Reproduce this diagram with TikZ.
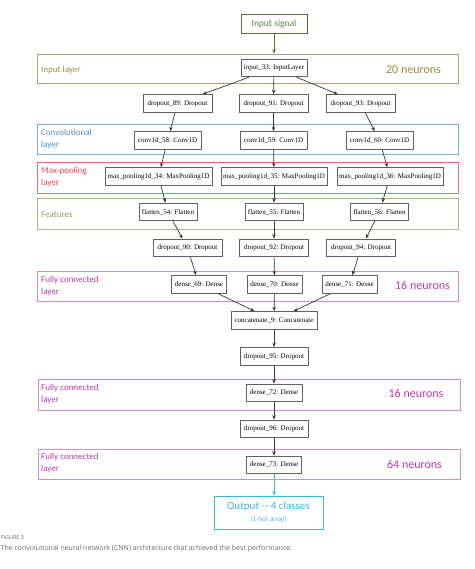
\documentclass[tikz,border=0pt]{standalone}
\usepackage{fontspec}
\setmainfont{Liberation Serif}
\newfontfamily\labfont{Carlito}
\newfontfamily\capfont{Open Sans}
\usetikzlibrary{arrows.meta}
\definecolor{olivec}{HTML}{9A8A3E}
\definecolor{oliveb}{HTML}{ADA36E}
\definecolor{convc}{HTML}{4F8FCF}
\definecolor{convb}{HTML}{7FAEDC}
\definecolor{poolc}{HTML}{E8464F}
\definecolor{poolb}{HTML}{EE6A70}
\definecolor{featc}{HTML}{8AA06A}
\definecolor{featb}{HTML}{A9B98A}
\definecolor{fcc}{HTML}{B53AA6}
\definecolor{fcb}{HTML}{D48ACB}
\definecolor{sigc}{HTML}{5F8A3A}
\definecolor{sigb}{HTML}{5C6A40}
\definecolor{outc}{HTML}{3CB4E2}
\definecolor{capc}{HTML}{6A6A6A}
\tikzset{
  layerbox/.style={draw=black!62, line width=1pt, fill=white, inner sep=0pt,
    minimum height=17.5pt, font=\fontsize{7}{8}\selectfont},
  band/.style={line width=0.9pt},
  bandlab/.style={anchor=west, align=left, inner sep=0pt, font=\labfont\fontsize{9}{12}\selectfont},
  neurlab/.style={inner sep=0pt, font=\labfont\fontsize{12}{14}\selectfont},
  flow/.style={draw=black!78, line width=0.7pt, -{Stealth[length=4.5pt,width=3.5pt]}},
}
\begin{document}
\begin{tikzpicture}[x=1pt,y=-1pt]
\useasboundingbox (0,0) rectangle (474,569);
% bands
\draw[band, draw=oliveb] (37,54) rectangle (458,83);
\draw[band, draw=convb] (37,124) rectangle (458,154);
\draw[band, draw=poolb] (37,162) rectangle (458,193);
\draw[band, draw=featb] (37,198) rectangle (458,229);
\draw[band, draw=fcb] (37,271.5) rectangle (458,301);
\draw[band, draw=fcb] (38,379) rectangle (460,410);
\draw[band, draw=fcb] (38,449) rectangle (460,479);
% band labels
\node[bandlab, text=olivec] (lin) at (41,70) {Input layer};
\node[bandlab, text=convc] (lconv) at (41,139.5) {Convolutional\\layer};
\node[bandlab, text=poolc] (lpool) at (41,177.5) {Max-pooling\\layer};
\node[bandlab, text=featc] (lfeat) at (41,215) {Features};
\node[bandlab, text=fcc] (lfc1) at (41,286) {Fully connected\\layer};
\node[bandlab, text=fcc] (lfc2) at (41,394.5) {Fully connected\\layer};
\node[bandlab, text=fcc] (lfc3) at (41,463.5) {Fully connected\\layer};
\node[neurlab, text=olivec] (n20) at (413.5,70) {20 neurons};
\node[neurlab, text=fcc] (n16a) at (422.5,285) {16 neurons};
\node[neurlab, text=fcc] (n16b) at (416,393) {16 neurons};
\node[neurlab, text=fcc] (n64) at (414.5,464) {64 neurons};
% input signal
\node[draw=sigb, line width=0.8pt, fill=white, minimum width=66pt, minimum height=19pt, inner sep=0pt,
  text=sigc, font=\labfont\fontsize{9.5}{11}\selectfont] (sig) at (274,24) {Input signal};
% layers
\node[layerbox, minimum width=66pt] (in33) at (274,68) {input\_33: InputLayer};
\node[layerbox, minimum width=69pt] (d89) at (177.5,103.5) {dropout\_89: Dropout};
\node[layerbox, minimum width=69pt] (d91) at (273.5,103.5) {dropout\_91: Dropout};
\node[layerbox, minimum width=69pt] (d93) at (360.5,103.5) {dropout\_93: Dropout};
\node[layerbox, minimum width=67pt] (c58) at (167.5,140.5) {conv1d\_58: Conv1D};
\node[layerbox, minimum width=67pt] (c59) at (273.5,140.5) {conv1d\_59: Conv1D};
\node[layerbox, minimum width=67pt] (c60) at (379.5,140.5) {conv1d\_60: Conv1D};
\node[layerbox, minimum width=107pt] (mp34) at (158.5,176.5) {max\_pooling1d\_34: MaxPooling1D};
\node[layerbox, minimum width=106pt] (mp35) at (274,176.5) {max\_pooling1d\_35: MaxPooling1D};
\node[layerbox, minimum width=106pt] (mp36) at (390,176.5) {max\_pooling1d\_36: MaxPooling1D};
\node[layerbox, minimum width=58pt] (f54) at (168,212) {flatten\_54: Flatten};
\node[layerbox, minimum width=58pt] (f55) at (274,212) {flatten\_55: Flatten};
\node[layerbox, minimum width=58pt] (f56) at (379.5,212) {flatten\_56: Flatten};
\node[layerbox, minimum width=69pt] (d90) at (187.5,248) {dropout\_90: Dropout};
\node[layerbox, minimum width=69pt] (d92) at (274,248) {dropout\_92: Dropout};
\node[layerbox, minimum width=69pt] (d94) at (361,248) {dropout\_94: Dropout};
\node[layerbox, minimum width=55pt] (dn69) at (199,284.5) {dense\_69: Dense};
\node[layerbox, minimum width=55pt] (dn70) at (274.5,284.5) {dense\_70: Dense};
\node[layerbox, minimum width=55pt] (dn71) at (349.5,284.5) {dense\_71: Dense};
\node[layerbox, minimum width=86pt] (cat) at (274,320.5) {concatenate\_9: Concatenate};
\node[layerbox, minimum width=68pt] (d95) at (274,356.5) {dropout\_95: Dropout};
\node[layerbox, minimum width=56pt] (dn72) at (274,393) {dense\_72: Dense};
\node[layerbox, minimum width=68pt] (d96) at (274,429) {dropout\_96: Dropout};
\node[layerbox, minimum width=55pt] (dn73) at (274,465) {dense\_73: Dense};
% output
\node[draw=outc, line width=0.9pt, fill=white, minimum width=109pt, minimum height=33pt, inner sep=0pt,
  text=outc, align=center, font=\labfont\fontsize{11}{13}\selectfont] (out) at (268.5,512.5)
  {Output -- 4 classes\\[-1pt]{\fontsize{7}{8}\selectfont (1-hot array)}};
% connectors
\draw[flow, draw=sigb, shorten >=5pt] (sig) -- (in33);
\foreach \a/\b in {in33/d89, in33/d91, in33/d93, d89/c58, d91/c59, d93/c60,
  c58/mp34, c59/mp35, c60/mp36, mp34/f54, mp35/f55, mp36/f56,
  f54/d90, f55/d92, f56/d94, d90/dn69, d92/dn70, d94/dn71,
  dn69/cat, dn70/cat, dn71/cat, cat/d95, d95/dn72, dn72/d96, d96/dn73}
  \draw[flow] (\a) -- (\b);
\draw[flow, draw=outc] (dn73.south) -- (dn73.south |- out.north);
% caption
\node[anchor=west, inner sep=0pt, text=capc, font=\capfont\fontsize{5.5}{6}\selectfont] (fig) at (0.5,538) {FIGURE 3};
\node[anchor=west, inner sep=0pt, text=capc, font=\capfont\fontsize{7}{8}\selectfont] (cap) at (0.5,549)
  {The convolutional neural network (CNN) architecture that achieved the best performance.};
\end{tikzpicture}
\end{document}
